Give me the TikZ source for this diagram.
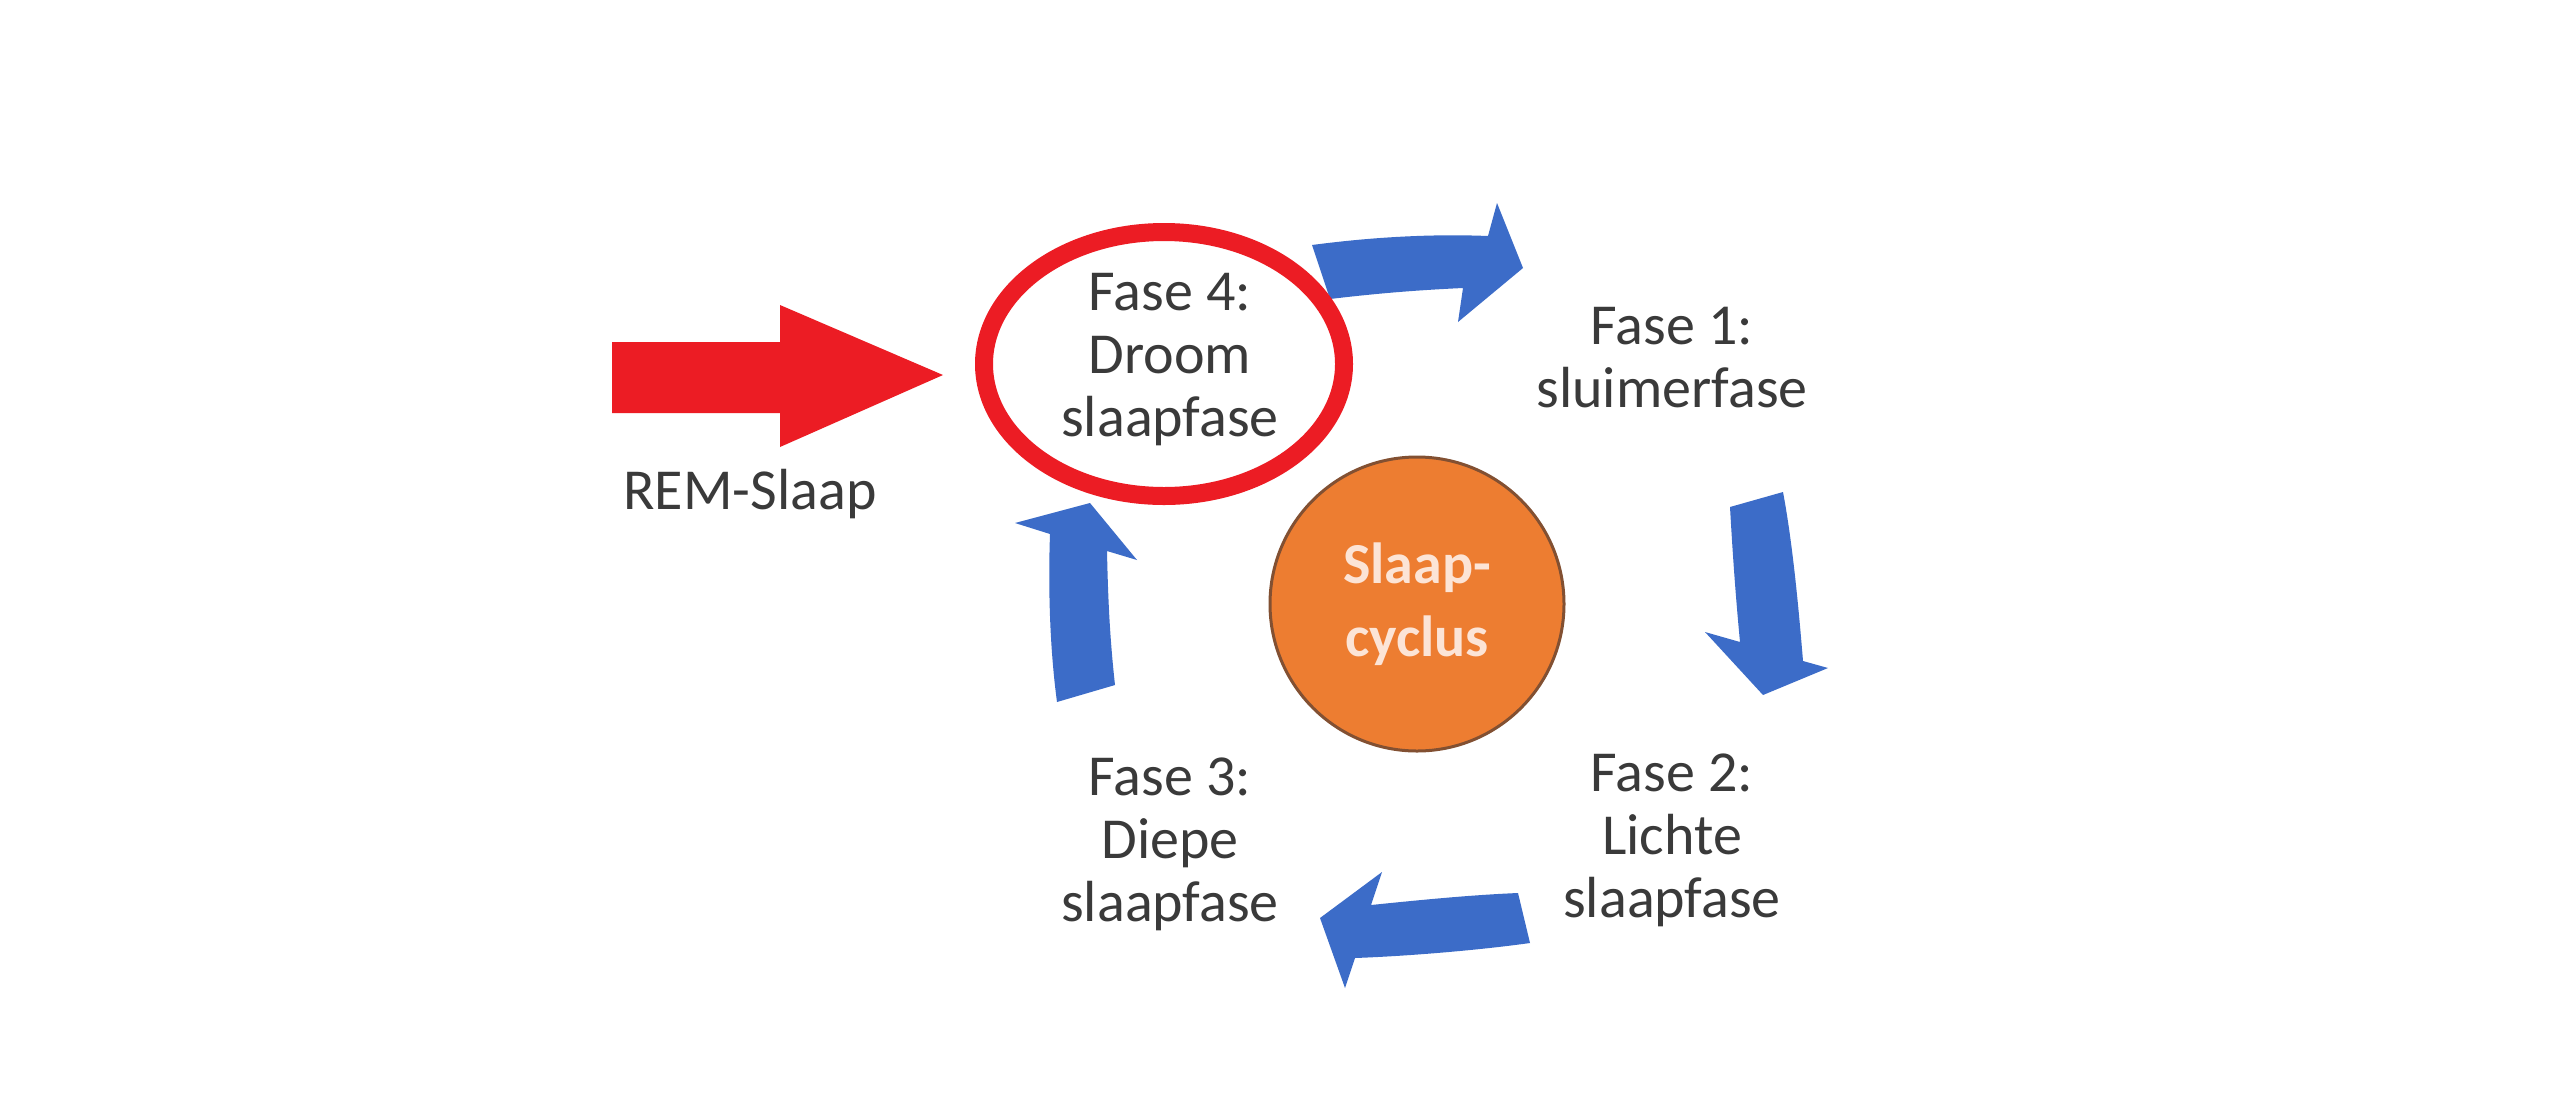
\documentclass[tikz,border=0pt]{standalone}
\usepackage{fontspec}
\setmainfont{Carlito}
\definecolor{arrowblue}{RGB}{60,108,200}
\definecolor{remred}{RGB}{236,28,36}
\definecolor{cycleorange}{RGB}{237,125,49}
\definecolor{cycleedge}{RGB}{130,80,50}
\definecolor{cycletext}{RGB}{252,228,214}
\definecolor{labelgray}{RGB}{58,58,58}
\begin{document}
\begin{tikzpicture}[x=0.5pt, y=-0.5pt]
      \tikzstyle{every node}=[inner sep=0pt, text=labelgray, font=\fontsize{29}{31.5}\selectfont]
      \tikzstyle{phase}=[anchor=north, align=center]
      \tikzstyle{cyclearrow}=[fill=arrowblue]
      \useasboundingbox (0,0) rectangle (2560,1099);
      \fill[white] (0,0) rectangle (2560,1099);

      \foreach \n/\x/\y/\t in {f1/1672/307/{Fase 1:\\sluimerfase}, f2/1672/753/{Fase 2:\\Lichte\\slaapfase}, f3/1170/757/{Fase 3:\\Diepe\\slaapfase}, f4/1170/273/{Fase 4:\\Droom\\slaapfase}}
      {
        \path (\x, \y) node[phase] (\n) {\t};
      }

      \path (1417, 604) node[circle, fill=cycleorange, draw=cycleedge, line width=1.5pt,
        minimum size=147pt, align=center, text=cycletext,
        font=\fontsize{29}{36.5}\selectfont\bfseries] (cycle) {Slaap-\\cyclus};

      \path (750, 469) node[anchor=north] (rem) {REM-Slaap};

      \fill[remred]
        (612,342) -- (780,342) -- (780,305) -- (943,375) -- (780,447) -- (780,413) -- (612,413) -- cycle;

      \fill[cyclearrow]
        (1312,245) .. controls (1380,236) and (1440,234) .. (1488,236) -- (1497,203) -- (1523,268)
        -- (1458,322) -- (1463,288) .. controls (1420,290) and (1380,293) .. (1330,299) -- cycle;
      \fill[cyclearrow]
        (1730,507) .. controls (1733,560) and (1736,600) .. (1740,642) -- (1705,632) -- (1763,695)
        -- (1828,668) -- (1803,661) .. controls (1798,600) and (1792,540) .. (1783,492) -- cycle;
      \fill[cyclearrow]
        (1518,893) .. controls (1470,895) and (1420,900) .. (1371,905) -- (1382,872) -- (1320,918)
        -- (1345,988) -- (1355,958) .. controls (1410,956) and (1480,950) .. (1530,943) -- cycle;
      \fill[cyclearrow]
        (1057,702) .. controls (1050,650) and (1048,590) .. (1050,534) -- (1015,523) -- (1090,503)
        -- (1137,560) -- (1107,551) .. controls (1108,600) and (1110,640) .. (1115,685) -- cycle;

      \draw[remred, line width=9pt]
        (1164,364) ellipse [x radius=90pt, y radius=66pt];
    \end{tikzpicture}
\end{document}
